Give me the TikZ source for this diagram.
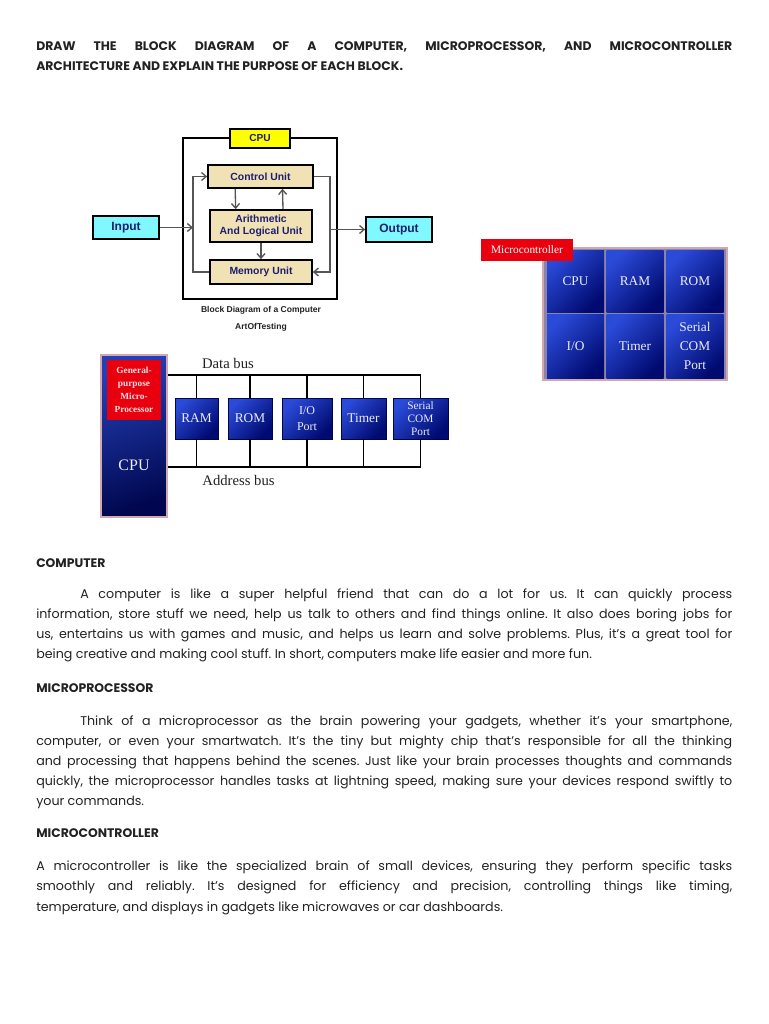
\documentclass[tikz,border=0pt]{standalone}
\usepackage{fontspec}
\setmainfont{Poppins}
\newfontfamily\arialf{Liberation Sans}
\newfontfamily\timesf{Liberation Serif}
\usetikzlibrary{arrows.meta}
\frenchspacing
\definecolor{textc}{HTML}{222222}
\definecolor{cpuyel}{HTML}{FFFF00}
\definecolor{tan}{HTML}{F0E2B4}
\definecolor{navy}{HTML}{1E1E6E}
\definecolor{cyanb}{HTML}{80F8FF}
\definecolor{arrg}{HTML}{555555}
\definecolor{cellA}{HTML}{2A4AD8}
\definecolor{cellB}{HTML}{000A70}
\definecolor{celltext}{HTML}{ECECF4}
\definecolor{redb}{HTML}{E8000E}
\definecolor{pinkb}{HTML}{D2A8B0}
\definecolor{gapc}{HTML}{8C84A8}
\tikzset{
  txt/.style={anchor=base west, inner sep=0pt, text=textc, font=\fontsize{9.5}{12}\selectfont},
  head/.style={anchor=base west, inner sep=0pt, text=textc, font=\bfseries\fontsize{9.3}{12}\selectfont},
  unitbox/.style={draw=black, line width=1.2pt, fill=tan, text=navy, inner sep=0pt, align=center,
     font=\arialf\bfseries\fontsize{7.8}{9.2}\selectfont},
  iobox/.style={draw=black, line width=1.2pt, fill=cyanb, text=navy, inner sep=0pt,
     minimum width=49.5pt, font=\arialf\bfseries\fontsize{9}{10}\selectfont},
  arr/.style={draw=arrg, line width=1pt, -{Straight Barb[length=3.5pt,width=6pt]}},
  mcell/.style={minimum width=42.75pt, minimum height=46.5pt, inner sep=0pt,
     top color=cellA, bottom color=cellB, shading angle=45, text=celltext, align=center,
     font=\timesf\fontsize{10}{14}\selectfont},
  pbox/.style={minimum height=30.75pt, inner sep=0pt, top color=cellA, bottom color=cellB,
     shading angle=45, text=celltext, align=center, draw=cellB!60!black, line width=0.3pt},
  bus/.style={draw=black, line width=1.1pt},
  buslabel/.style={inner sep=0pt, text=textc, font=\timesf\fontsize{11}{13}\selectfont}
}
\begin{document}
\begin{tikzpicture}[x=0.75pt,y=-0.75pt]
\useasboundingbox[fill=white] (0,0) rectangle (768,1024);

% ---------- title ----------
\node[head] (t1) at (36,51) {\makebox[522pt][s]{DRAW THE BLOCK DIAGRAM OF A COMPUTER, MICROPROCESSOR, AND MICROCONTROLLER}};
\node[head] (t2) at (36,71) {ARCHITECTURE AND EXPLAIN THE PURPOSE OF EACH BLOCK.};

% ---------- computer block diagram ----------
\draw[line width=1.5pt] (183,138) rectangle (337,299);
\node[draw=black, line width=1.2pt, fill=cpuyel, text=navy, minimum width=45pt, minimum height=14.25pt,
   inner sep=0pt, font=\arialf\bfseries\fontsize{7.6}{9}\selectfont] (cpu) at (260,138.5) {CPU};
\node[unitbox, minimum width=78.75pt, minimum height=17.25pt] (ctrl) at (260.5,176.5) {Control Unit};
\node[unitbox, minimum width=76.5pt, minimum height=24pt] (alu) at (261,226) {Arithmetic\\And Logical Unit};
\node[unitbox, minimum width=76.5pt, minimum height=18pt] (mem) at (261,272) {Memory Unit};
\node[iobox, minimum height=17.25pt] (inp) at (126,227.5) {Input};
\node[iobox, minimum height=18.75pt] (outp) at (399,229.5) {Output};
\coordinate (lx) at (193,228);
\coordinate (rx) at (330,228);
\draw[arr] (mem.west) -| (lx) |- (ctrl.west);
\draw[arr] (inp.east) -- (inp.east -| lx);
\draw[arr] (ctrl.east) -| (rx) |- (mem.east);
\draw[arr] (rx |- outp.west) -- (outp.west);
\draw[arr] ([xshift=-19pt]ctrl.south) -- ([xshift=-19pt]alu.north);
\draw[arr] ([xshift=16.5pt]alu.north) -- ([xshift=16.5pt]ctrl.south);
\draw[arr] (alu.south) -- (mem.north);
\node[inner sep=0pt, text=textc, font=\arialf\bfseries\fontsize{6.4}{7}\selectfont] (cap1) at (261,310) {Block Diagram of a Computer};
\node[inner sep=0pt, text=textc, font=\arialf\bfseries\fontsize{6.4}{7}\selectfont] (cap2) at (261,327) {ArtOfTesting};

% ---------- microcontroller ----------
\node[draw=pinkb, line width=0.8pt, fill=gapc, minimum width=138pt, minimum height=99pt, inner sep=0pt] (mcf) at (635,314) {};
\node[mcell] (mc1) at (575.5,281) {CPU};
\node[mcell] (mc2) at (635,281) {RAM};
\node[mcell] (mc3) at (695,281) {ROM};
\node[mcell, minimum height=48pt] (mc4) at (575.5,346) {I/O};
\node[mcell, minimum height=48pt] (mc5) at (635,346) {Timer};
\node[mcell, minimum height=48pt] (mc6) at (695,346) {Serial\\COM\\Port};
\node[fill=redb, text=white, minimum width=69pt, minimum height=16.5pt, inner sep=0pt,
   font=\timesf\fontsize{8.5}{10}\selectfont] (mclab) at (527,250) {Microcontroller};

% ---------- microprocessor ----------
\node[draw=pinkb, line width=1.2pt, minimum width=49.5pt, minimum height=121.5pt, inner sep=0pt,
   top color=cellA!85!black, bottom color=cellB!70!black, shading angle=20] (cpub) at (134,436) {};
\node[fill=redb, text=pinkb!35!white, minimum width=40.5pt, minimum height=45pt, inner sep=0pt, align=center,
   font=\timesf\bfseries\fontsize{7}{9.75}\selectfont] (gp) at (134,390) {General-\\purpose\\Micro-\\Processor};
\node[inner sep=0pt, text=celltext, font=\timesf\fontsize{12}{14}\selectfont] (cput) at (134,465) {CPU};
\coordinate (dbE) at (420.5,375);
\coordinate (abE) at (420.5,467);
\draw[bus] (cpub.east |- dbE) -- (dbE);
\draw[bus] (cpub.east |- abE) -- (abE);
\node[pbox, minimum width=32.25pt, font=\timesf\fontsize{10}{12}\selectfont] (ram) at (196.5,418.5) {RAM};
\node[pbox, minimum width=33pt, font=\timesf\fontsize{10}{12}\selectfont] (rom) at (250,418.5) {ROM};
\node[pbox, minimum width=37.5pt, font=\timesf\fontsize{9}{12.5}\selectfont] (iop) at (307,418.5) {I/O\\Port};
\node[pbox, minimum width=33.75pt, font=\timesf\fontsize{10}{12}\selectfont] (tim) at (363.5,418.5) {Timer};
\node[pbox, minimum width=41.25pt, font=\timesf\fontsize{8.5}{9.5}\selectfont] (ser) at (420.5,418.5) {Serial\\COM\\Port};
\foreach \b in {ram,rom,iop,tim,ser}{
  \draw[bus] (\b.north |- dbE) -- (\b.north);
  \draw[bus] (\b.south) -- (\b.south |- abE);
}
\node[buslabel] (dbl) at (228,363) {Data bus};
\node[buslabel] (abl) at (238.5,480) {Address bus};

% ---------- text ----------
\node[head] (h1) at (36,567) {COMPUTER};
\node[txt] (c1) at (80,598) {\makebox[489pt][s]{A computer is like a super helpful friend that can do a lot for us. It can quickly process}};
\node[txt] (c2) at (36,618) {\makebox[522pt][s]{information, store stuff we need, help us talk to others and find things online. It also does boring jobs for}};
\node[txt] (c3) at (36,638) {\makebox[522pt][s]{us, entertains us with games and music, and helps us learn and solve problems. Plus, it’s a great tool for}};
\node[txt] (c4) at (36,658) {being creative and making cool stuff. In short, computers make life easier and more fun.};

\node[head] (h2) at (36,692) {MICROPROCESSOR};
\node[txt] (p1) at (80,725) {\makebox[489pt][s]{Think of a microprocessor as the brain powering your gadgets, whether it’s your smartphone,}};
\node[txt] (p2) at (36,745) {\makebox[522pt][s]{computer, or even your smartwatch. It’s the tiny but mighty chip that’s responsible for all the thinking}};
\node[txt] (p3) at (36,765) {\makebox[522pt][s]{and processing that happens behind the scenes. Just like your brain processes thoughts and commands}};
\node[txt] (p4) at (36,785) {\makebox[522pt][s]{quickly, the microprocessor handles tasks at lightning speed, making sure your devices respond swiftly to}};
\node[txt] (p5) at (36,805) {your commands.};

\node[head] (h3) at (36,837) {MICROCONTROLLER};
\node[txt] (m1) at (36,870) {\makebox[522pt][s]{A microcontroller is like the specialized brain of small devices, ensuring they perform specific tasks}};
\node[txt] (m2) at (36,890) {\makebox[522pt][s]{smoothly and reliably. It’s designed for efficiency and precision, controlling things like timing,}};
\node[txt] (m3) at (36,911) {temperature, and displays in gadgets like microwaves or car dashboards.};
\end{tikzpicture}
\end{document}
